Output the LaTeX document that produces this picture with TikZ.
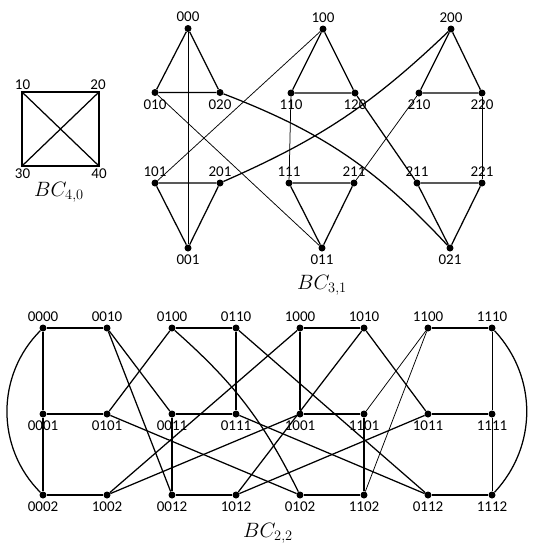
\documentclass[tikz,border=0pt]{standalone}
\usepackage{fontspec}
\setmainfont{Carlito}
\begin{document}
\begin{tikzpicture}[x=1pt,y=-1pt,
  dot/.style={circle,fill=black,inner sep=0pt,minimum size=7pt},
  lab/.style={font=\fontsize{15}{17}\selectfont,inner sep=0.5pt,label distance=2.5pt},
  lbl/.style={font=\fontsize{15}{17}\selectfont,inner sep=0pt},
  bclab/.style={font=\fontsize{20}{24}\selectfont,inner sep=0pt},
  ed/.style={line width=1.25pt},
  th/.style={line width=0.75pt}]
\useasboundingbox (0,0) rectangle (534,550);
% ---------- BC_{4,0}
\coordinate (c10) at (22,92);
\coordinate (c20) at (99,92);
\coordinate (c30) at (22,166);
\coordinate (c40) at (99,166);
\node[lbl] (l10) at (22.5,84.5) {10};
\node[lbl] (l20) at (98,84.5) {20};
\node[lbl] (l30) at (22.5,174) {30};
\node[lbl] (l40) at (99,174) {40};
\draw[ed] (c10) -- (c20) -- (c40) -- (c30) -- cycle;
\draw[ed] (c10) -- (c40) (c20) -- (c30);
\node[bclab] (t40) at (59,192) {$BC_{4,0}$};
% ---------- BC_{3,1}
\node[dot,label={[lab]above:000}] (n000) at (188,28.5) {};
\node[dot,label={[lab]below:010}] (n010) at (155,92.5) {};
\node[dot,label={[lab]below:020}] (n020) at (220,92.5) {};
\node[dot,label={[lab]above:101}] (n101) at (155,183) {};
\node[dot,label={[lab]above:201}] (n201) at (220,183) {};
\node[dot,label={[lab]below:001}] (n001) at (188,248) {};
\node[dot,label={[lab]above:100}] (n100) at (323,29) {};
\node[dot,label={[lab]below:110}] (n110) at (291,93) {};
\node[dot,label={[lab]below:120}] (n120) at (355,93) {};
\node[dot,label={[lab]above:111}] (n111) at (289,183) {};
\node[dot,label={[lab]above:211}] (n211a) at (354,183) {};
\node[dot,label={[lab]below:011}] (n011) at (322,248) {};
\node[dot,label={[lab]above:200}] (n200) at (451,29) {};
\node[dot,label={[lab]below:210}] (n210) at (419,93) {};
\node[dot,label={[lab]below:220}] (n220) at (482,93) {};
\node[dot,label={[lab]above:211}] (n211b) at (417,183) {};
\node[dot,label={[lab]above:221}] (n221) at (482,183) {};
\node[dot,label={[lab]below:021}] (n021) at (450,248) {};
\draw[ed] (n000) -- (n010) -- (n020) -- (n000);
\draw[ed] (n100) -- (n110) -- (n120) -- (n100);
\draw[ed] (n200) -- (n210) -- (n220) -- (n200);
\draw[ed] (n001) -- (n101) -- (n201) -- (n001);
\draw[ed] (n011) -- (n111) -- (n211a) -- (n011);
\draw[ed] (n021) -- (n211b) -- (n221) -- (n021);
\draw[th] (n000) -- (n001);
\draw[th] (n110) -- (n111);
\draw[th] (n220) -- (n221);
\draw[th] (n010) -- (n011);
\draw[th] (n100) -- (n101);
\draw[th] (n210) -- (n211a);
\draw[ed] (n120) -- (n211b);
\draw[ed] (n020) to[bend left=13] (n021);
\draw[ed] (n201) to[bend right=10] (n200);
\node[bclab] (t31) at (322,285) {$BC_{3,1}$};
% ---------- BC_{2,2}
\foreach \nm/\x in {0000/43,0010/107,0100/172,0110/236,1000/300,1010/364,1100/428,1110/492}
  \node[dot,label={[lab]above:\nm}] (m\nm) at (\x,328) {};
\foreach \nm/\x in {0001/43,0101/107,0011/172,0111/236,1001/300,1101/364,1011/428,1111/492}
  \node[dot,label={[lab]below:\nm}] (m\nm) at (\x,414) {};
\foreach \nm/\x in {0002/43,1002/107,0012/172,1012/236,0102/300,1102/364,0112/428,1112/492}
  \node[dot,label={[lab]below:\nm}] (m\nm) at (\x,495) {};
% horizontals
\draw[ed] (m0000) -- (m0010);
\draw[ed] (m0100) -- (m0110);
\draw[ed] (m1000) -- (m1010);
\draw[ed] (m1100) -- (m1110);
\draw[ed] (m0001) -- (m0101);
\draw[ed] (m0011) -- (m0111);
\draw[ed] (m1001) -- (m1101);
\draw[ed] (m1011) -- (m1111);
\draw[ed] (m0002) -- (m1002);
\draw[ed] (m0012) -- (m1012);
\draw[ed] (m0102) -- (m1102);
\draw[ed] (m0112) -- (m1112);
% verticals
\draw[ed] (m0000) -- (m0001) -- (m0002);
\draw[ed] (m0011) -- (m0012);
\draw[ed] (m0110) -- (m0111);
\draw[ed] (m1000) -- (m1001);
\draw[ed] (m1101) -- (m1102);
\draw[th] (m1110) -- (m1111) -- (m1112);
% arcs
\draw[ed] (m0000) to[bend right=45] (m0002);
\draw[ed] (m1110) to[bend left=43] (m1112);
% diagonals
\draw[ed] (m0010) -- (m0011);
\draw[ed] (m0010) -- (m0012);
\draw[ed] (m0100) -- (m0101);
\draw[ed] (m0100) to[bend left=11] (m0102);
\draw[ed] (m0110) -- (m0112);
\draw[ed] (m0111) -- (m0112);
\draw[ed] (m1000) -- (m1002);
\draw[ed] (m1001) -- (m1002);
\draw[ed] (m1010) -- (m1012);
\draw[ed] (m1010) -- (m1011);
\draw[ed] (m1011) -- (m1012);
\draw[th] (m1100) -- (m1101);
\draw[th] (m1100) -- (m1102);
\draw[ed] (m0101) -- (m0102);
\node[bclab] (t22) at (268,533) {$BC_{2,2}$};
\end{tikzpicture}
\end{document}
